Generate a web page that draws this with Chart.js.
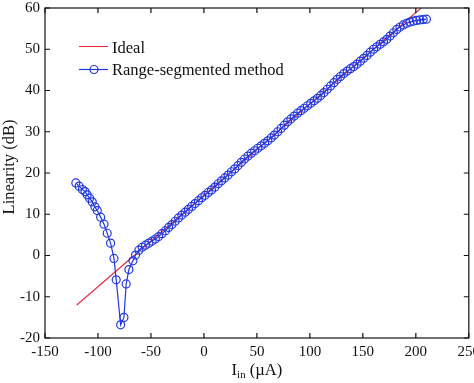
<!DOCTYPE html>
<html>
<head>
<meta charset="utf-8">
<script src="https://cdn.jsdelivr.net/npm/chart.js@4.4.0/dist/chart.umd.min.js"></script>
<style>
  html, body { margin: 0; padding: 0; background: #ffffff; }
  #c { display: block; }
</style>
</head>
<body>
<canvas id="c" width="474" height="383"></canvas>
<script>
// ---- data ----
const idealX = [-120, 205];
const idealY = [-12, 60];

const measX = [-120.9,-117.8,-114.7,-112.2,-110.2,-107.9,-105.4,-102.9,-100.7,-97.5,-94.3,-91.3,-88.1,-84.9,-82.8,-78.6,-75.5,-73.4,-70.8,-67.0,-64.5,-61.4,
  -58.3,-55.2,-52.0,-48.9,-45.8,-42.7,-39.6,-36.4,-33.3,-30.2,-27.1,-24.0,-20.8,-17.7,-14.6,-11.5,-8.4,-5.2,-2.1,1.0,4.1,7.2,10.4,13.5,16.6,19.7,22.8,26.0,29.1,32.2,35.3,38.4,41.6,44.7,47.8,50.9,54.0,57.2,60.3,63.4,66.5,69.6,72.8,75.9,79.0,82.1,85.2,88.4,91.5,94.6,97.7,100.8,104.0,107.1,110.2,113.3,116.4,119.6,122.7,125.8,128.9,132.0,135.2,138.3,141.4,144.5,147.6,150.8,153.9,157.0,160.1,163.2,166.4,169.5,172.6,175.7,178.8,182.0,185.1,188.2,191.3,194.4,197.6,200.7,203.8,206.9,210.0];
const measY = [17.6,16.8,16.0,15.5,14.7,13.9,13.0,11.8,10.9,9.3,7.6,5.4,3.0,-0.7,-5.9,-16.8,-15.0,-6.9,-3.4,-1.3,0.1,1.3,
  2.0,2.5,3.0,3.5,4.0,4.6,5.3,6.0,6.8,7.5,8.3,9.1,9.8,10.5,11.2,11.9,12.6,13.3,14.0,14.6,15.3,15.9,16.6,17.4,18.1,18.8,19.5,20.3,21.0,21.8,22.6,23.4,24.1,24.8,25.4,26.0,26.6,27.2,27.8,28.5,29.2,30.0,30.8,31.6,32.4,33.1,33.8,34.5,35.1,35.7,36.3,36.9,37.5,38.1,38.8,39.5,40.3,41.1,41.9,42.7,43.4,44.1,44.7,45.3,45.8,46.4,47.1,47.8,48.5,49.3,50.0,50.6,51.2,51.8,52.4,53.2,54.0,54.8,55.4,55.9,56.3,56.6,56.8,57.0,57.1,57.2,57.3];

const xTicks = [-150,-100,-50,0,50,100,150,200,250];
const yTicks = [-20,-10,0,10,20,30,40,50,60];
const seriesNames = ['Ideal', 'Range-segmented method'];

// ---- style ----
const FONT = "'Liberation Serif', 'Times New Roman', serif";
const RED = '#e8283c';
const BLUE = '#2038e0';
const INK = '#111111';

const framePlugin = {
  id: 'frame',
  afterDraw(chart) {
    const ctx = chart.ctx;
    const a = chart.chartArea;
    const xs = chart.scales.x, ys = chart.scales.y;
    ctx.save();
    ctx.strokeStyle = INK;
    ctx.lineWidth = 1.2;
    ctx.strokeRect(a.left, a.top, a.right - a.left, a.bottom - a.top);
    const tl = 5;
    ctx.beginPath();
    xTicks.forEach(v => {
      const px = xs.getPixelForValue(v);
      ctx.moveTo(px, a.bottom); ctx.lineTo(px, a.bottom - tl);
      ctx.moveTo(px, a.top); ctx.lineTo(px, a.top + tl);
    });
    yTicks.forEach(v => {
      const py = ys.getPixelForValue(v);
      ctx.moveTo(a.left, py); ctx.lineTo(a.left + tl, py);
      ctx.moveTo(a.right, py); ctx.lineTo(a.right - tl, py);
    });
    ctx.stroke();

    // legend
    ctx.lineWidth = 1.1;
    ctx.strokeStyle = RED;
    ctx.beginPath(); ctx.moveTo(79, 46.5); ctx.lineTo(108, 46.5); ctx.stroke();
    ctx.strokeStyle = BLUE;
    ctx.lineWidth = 1.2;
    ctx.beginPath(); ctx.moveTo(79, 69.5); ctx.lineTo(108, 69.5); ctx.stroke();
    ctx.beginPath(); ctx.arc(94, 69.5, 4, 0, Math.PI * 2); ctx.stroke();
    ctx.fillStyle = INK;
    ctx.font = '16.5px ' + FONT;
    ctx.textAlign = 'left';
    ctx.textBaseline = 'alphabetic';
    ctx.fillText(seriesNames[0], 112, 52.5);
    ctx.fillText(seriesNames[1], 112, 75);

    // x title  I_in (µA)
    const cx = (a.left + a.right) / 2;
    ctx.font = '16.5px ' + FONT;
    const wI = ctx.measureText('I').width;
    const wRest = ctx.measureText(' (\u00B5A)').width;
    ctx.font = '11px ' + FONT;
    const wSub = ctx.measureText('in').width;
    let x0 = cx - (wI + wSub + wRest) / 2;
    const base = 375;
    ctx.font = '16.5px ' + FONT;
    ctx.fillText('I', x0, base);
    ctx.font = '11px ' + FONT;
    ctx.fillText('in', x0 + wI, base + 3);
    ctx.font = '16.5px ' + FONT;
    ctx.fillText(' (\u00B5A)', x0 + wI + wSub, base);

    // y title
    ctx.save();
    ctx.translate(14, (a.top + a.bottom) / 2 - 6);
    ctx.rotate(-Math.PI / 2);
    ctx.textAlign = 'center';
    ctx.textBaseline = 'alphabetic';
    ctx.font = '16.5px ' + FONT;
    ctx.fillText('Linearity (dB)', 0, 0);
    ctx.restore();
    ctx.restore();
  }
};

new Chart(document.getElementById('c'), {
  type: 'scatter',
  data: {
    datasets: [
      {
        label: seriesNames[0],
        data: idealX.map((x, i) => ({ x: x, y: idealY[i] })),
        showLine: true,
        borderColor: RED,
        borderWidth: 1.1,
        pointRadius: 0,
        order: 2
      },
      {
        label: seriesNames[1],
        data: measX.map((x, i) => ({ x: x, y: measY[i] })),
        showLine: true,
        borderColor: BLUE,
        borderWidth: 1.2,
        pointRadius: 4,
        pointBorderWidth: 1.2,
        pointBorderColor: BLUE,
        pointBackgroundColor: 'rgba(0,0,0,0)',
        order: 1
      }
    ]
  },
  options: {
    responsive: false,
    animation: false,
    devicePixelRatio: 1,
    layout: { padding: { top: 8, right: 5, left: 0, bottom: 0 } },
    plugins: { legend: { display: false }, tooltip: { enabled: false } },
    scales: {
      x: {
        type: 'linear', min: -150, max: 250,
        ticks: { stepSize: 50, color: INK, font: { family: FONT, size: 15 }, padding: 5, maxRotation: 0, autoSkip: false },
        grid: { display: false, drawTicks: false },
        border: { display: false },
        afterFit(s) { s.height = 45; s.paddingLeft = 0; s.paddingRight = 0; }
      },
      y: {
        type: 'linear', min: -20, max: 60,
        ticks: { stepSize: 10, color: INK, font: { family: FONT, size: 15 }, padding: 5 },
        grid: { display: false, drawTicks: false },
        border: { display: false },
        afterFit(s) { s.width = 45; s.paddingTop = 0; s.paddingBottom = 0; }
      }
    }
  },
  plugins: [framePlugin]
});
</script>
</body>
</html>
